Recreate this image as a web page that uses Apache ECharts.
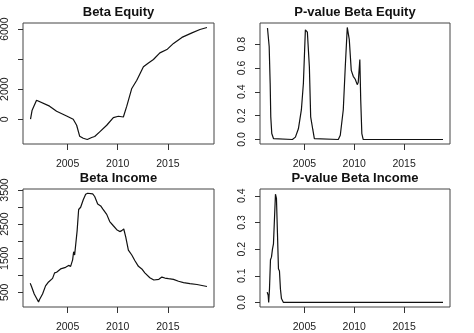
<!DOCTYPE html>
<html><head><meta charset="utf-8">
<script src="https://cdn.jsdelivr.net/npm/echarts@6/dist/echarts.min.js"></script>
<style>html,body{margin:0;padding:0;background:#fff}#c{width:474px;height:333px}</style>
</head><body><div id="c"></div>
<script>
// ---- data ----
const titles = ['Beta Equity', 'P-value Beta Equity', 'Beta Income', 'P-value Beta Income'];
const xTicks = [2005, 2010, 2015];

const eqYears = [2001.3,2001.46,2001.9,2002.06,2003.2,2003.9,2004.9,2005.56,2005.9,2006.2,2006.56,2006.96,2007.4,2007.7,2008.2,2008.9,2009.56,2010.06,2010.56,2010.9,2011.4,2011.9,2012.56,2013.06,2013.56,2014.2,2014.9,2015.56,2016.4,2017.4,2018.2,2018.9];
const eqValues = [0,600,1267,1300,870,530,220,0,-400,-1130,-1270,-1350,-1220,-1150,-840,-400,110,200,150,870,2050,2600,3490,3750,3980,4420,4640,5050,5450,5750,5980,6110];

const pEqYears = [2001.3,2001.47,2001.57,2001.63,2001.73,2001.9,2002.1,2003.8,2004.1,2004.4,2004.7,2004.9,2005.1,2005.2,2005.3,2005.5,2005.63,2005.75,2005.85,2006.0,2006.2,2008.4,2008.6,2008.9,2009.1,2009.3,2009.5,2009.7,2009.9,2010.1,2010.3,2010.4,2010.56,2010.65,2010.76,2010.9,2018.9];
const pEqValues = [0.935,0.78,0.47,0.19,0.05,0.008,0,0,0.02,0.09,0.25,0.47,0.92,0.935,0.9,0.61,0.19,0.185,0.08,0.008,0,0,0.036,0.25,0.61,0.94,0.84,0.58,0.53,0.505,0.46,0.48,0.67,0.33,0.05,0,0];

const incYears = [2001.27,2001.4,2001.5,2001.67,2001.9,2002.1,2002.2,2002.5,2002.8,2003.1,2003.5,2003.7,2003.9,2004.3,2004.8,2005.1,2005.3,2005.4,2005.5,2005.6,2005.7,2005.95,2006.1,2006.3,2006.4,2006.56,2006.8,2007.0,2007.5,2007.7,2008.0,2008.3,2008.5,2008.9,2009.2,2009.56,2009.9,2010.2,2010.4,2010.6,2010.8,2011.06,2011.4,2011.7,2012.06,2012.4,2012.7,2013.2,2013.6,2014.1,2014.4,2014.7,2015.06,2015.56,2016.06,2016.56,2017.2,2017.9,2018.4,2018.9];
const incValues = [767,671,614,452,329,214,290,452,690,805,910,1071,1090,1186,1233,1290,1262,1224,1452,1690,1595,2310,2929,2995,2976,3214,3376,3405,3386,3310,3090,3033,2948,2786,2576,2452,2338,2281,2310,2357,2119,1738,1595,1433,1262,1186,1071,929,862,881,948,919,900,881,824,786,757,729,700,671];

const pIncYears = [2001.27,2001.37,2001.42,2001.5,2001.6,2001.7,2001.8,2001.9,2002.1,2002.2,2002.3,2002.4,2002.5,2002.6,2002.7,2002.9,2018.9];
const pIncValues = [0.039,0.027,0.0,0.05,0.16,0.17,0.2,0.22,0.406,0.39,0.26,0.126,0.118,0.05,0.015,0,0];

const eqTicks = [0,2000,4000,6000], eqLabels = [0,2000,6000];
const pEqTicks = [0,0.2,0.4,0.6,0.8];
const incTicks = [500,1000,1500,2000,2500,3000,3500], incLabels = [500,1500,2500,3500];
const pIncTicks = [0,0.1,0.2,0.3,0.4];

// ---- build ----
const pairs = (xs, ys) => xs.map((x, i) => [x, ys[i]]);
const FONT = 'Liberation Sans, Arial, sans-serif';
const grids = [
  {left: 23, top: 23, width: 191, height: 121},
  {left: 260, top: 23, width: 190, height: 121},
  {left: 23, top: 189, width: 191, height: 121},
  {left: 260, top: 189, width: 190, height: 121}
].map(g => Object.assign({show: true, borderColor: '#444', borderWidth: 1, backgroundColor: 'transparent'}, g));

const yRanges = [[-1650, 6410], [-0.0376, 0.977], [70, 3530], [-0.017, 0.4255]];
const yTickSets = [eqTicks, pEqTicks, incTicks, pIncTicks];
const yLabelSets = [eqLabels, pEqTicks, incLabels, pIncTicks];
const yFmt = [v => String(v), v => v.toFixed(1), v => String(v), v => v.toFixed(1)];
const seriesData = [pairs(eqYears, eqValues), pairs(pEqYears, pEqValues), pairs(incYears, incValues), pairs(pIncYears, pIncValues)];

const xAxes = grids.map((g, i) => ({
  type: 'value', gridIndex: i, min: 2000.55, max: 2019.6, position: 'bottom',
  axisLine: {show: false, onZero: false}, splitLine: {show: false},
  axisTick: {show: true, customValues: xTicks, length: 6, lineStyle: {color: '#333'}},
  axisLabel: {customValues: xTicks, margin: 15, fontSize: 10.5, color: '#222', fontFamily: FONT, formatter: v => String(v)}
}));
const yAxes = grids.map((g, i) => ({
  type: 'value', gridIndex: i, min: yRanges[i][0], max: yRanges[i][1], position: 'left',
  axisLine: {show: false, onZero: false}, splitLine: {show: false},
  axisTick: {show: true, customValues: yTickSets[i], length: 5, lineStyle: {color: '#333'}},
  axisLabel: {customValues: yLabelSets[i], rotate: 90, margin: 12, fontSize: 10.5, color: '#222', fontFamily: FONT, formatter: yFmt[i]}
}));
const titleCenters = [[118.5, 6], [355, 6], [118.5, 172], [355, 172]];
const titleOpts = titles.map((t, i) => ({
  text: t, left: titleCenters[i][0], top: titleCenters[i][1], textAlign: 'center', padding: 0,
  textStyle: {fontSize: 13, fontWeight: 'bold', color: '#111', fontFamily: FONT}
}));
const series = seriesData.map((d, i) => ({
  type: 'line', xAxisIndex: i, yAxisIndex: i, data: d, showSymbol: false, symbol: 'none',
  lineStyle: {color: '#111', width: 1.2}, silent: true
}));

const chart = echarts.init(document.getElementById('c'), null, {renderer: 'canvas'});
chart.setOption({animation: false, title: titleOpts, grid: grids, xAxis: xAxes, yAxis: yAxes, series: series});
</script></body></html>
